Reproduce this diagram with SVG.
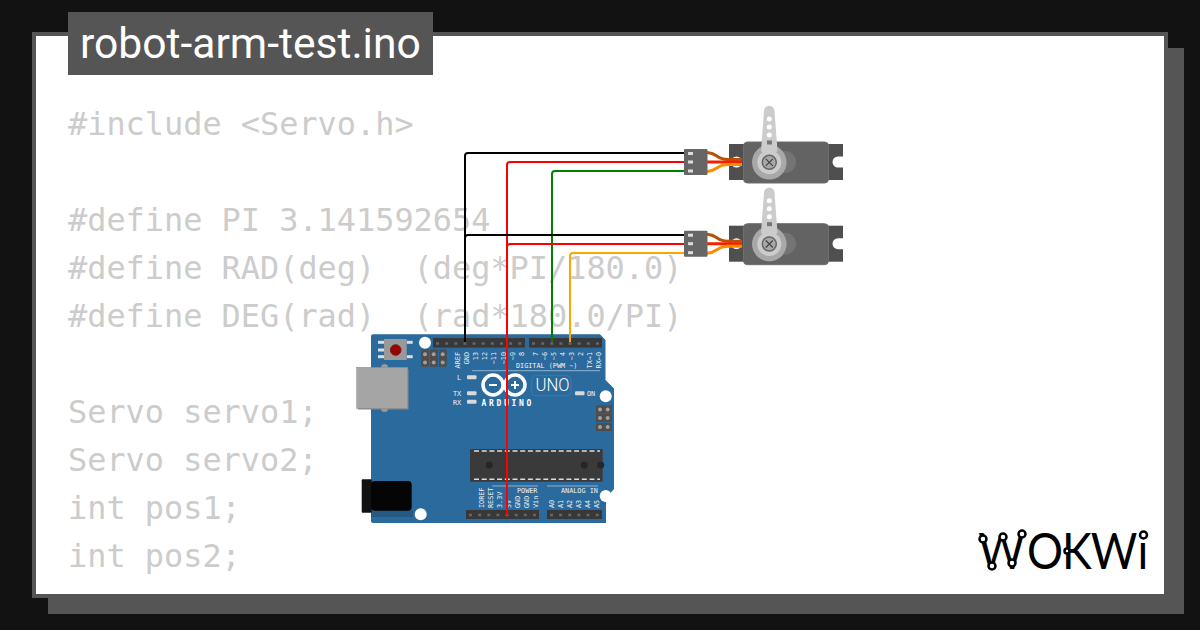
<svg xmlns="http://www.w3.org/2000/svg" width="1200" height="630" viewBox="0 0 1200 630">
<defs>
<style>
.code{font:31.900px "DejaVu Sans Mono","Liberation Mono",monospace;fill:#ccc;white-space:pre}
.lab{font-family:"DejaVu Sans Mono","Liberation Mono",monospace;font-size:6.8px;fill:#f2f2f2}
.wire{fill:none;stroke-width:2}
.lead{fill:none;stroke-width:3}
.hdr{fill:#383838}
.hp{fill:none;stroke:#666;stroke-width:2.500}
.icsp{fill:#4d4d4d}
.dot{fill:#a0a0a0}
.led{fill:#d9d9d9}
.hole{fill:#fff}
.pinw{fill:#ddd}
</style>
<g id="servo-shape">
<rect x="729" y="144" width="114" height="36" fill="#4f4f4f"/>
<circle cx="736.500" cy="162" r="5.500" class="hole"/>
<path d="M838 156.500a5.500 5.500 0 0 0 0 11h5v-11z" class="hole"/>
<rect x="743.500" y="142" width="85" height="41" rx="4" fill="#636363" stroke="#6e6e6e"/>
<path class="lead" d="M707 152.500C718 153 716 159.500 728 159.500H742" stroke="#b8520a"/>
<path class="lead" d="M707 162H742" stroke="#f32000"/>
<path class="lead" d="M707 171.500C718 171 716 164.500 728 164.500H742" stroke="#ff8a00"/>
<rect x="684" y="149" width="23.500" height="26" rx="1" fill="#666"/>
<rect x="688" y="152" width="5" height="3" class="pinw"/><rect x="688" y="160.500" width="5" height="3" class="pinw"/><rect x="688" y="169.500" width="5" height="3" class="pinw"/>
<circle cx="785" cy="162" r="11" fill="#747474"/>
<circle cx="769.300" cy="162.300" r="17.300" fill="#a8a8a8"/>
<path d="M764 111a5.200 5.200 0 0 1 10.500 0l3 40a12 12 0 0 1-16.500 0z" fill="#ccc"/>
<circle cx="769.300" cy="162.300" r="12" fill="#ccc"/>
<circle cx="769.300" cy="162.300" r="7" fill="#a8a8a8" stroke="#666" stroke-width="1.500"/>
<path d="M765.800 158.800l7 7m0-7l-7 7" stroke="#444" stroke-width="1.200"/>
<circle cx="769.300" cy="119" r="2.500" class="hole"/><circle cx="769.300" cy="127" r="2.500" class="hole"/><circle cx="769.300" cy="135" r="2.500" class="hole"/><rect x="767" y="140.500" width="5" height="4" fill="#777"/>
</g>
</defs>
<rect width="1200" height="630" fill="#121212"/>
<rect x="48" y="48" width="1136" height="566" fill="#555"/>
<rect x="34" y="34" width="1132" height="562" fill="#fff" stroke="#555" stroke-width="4"/>
<rect x="68" y="12" width="365" height="63" fill="#555"/>
<text x="80" y="58" style="font:42.600px Roboto,sans-serif;fill:#fff">robot-arm-test.ino</text>
<g class="code">
<text x="68" y="135">#include &lt;Servo.h&gt;</text>
<text x="68" y="231">#define PI 3.141592654</text>
<text x="68" y="279" xml:space="preserve">#define RAD(deg)  (deg*PI/180.0)</text>
<text x="68" y="327" xml:space="preserve">#define DEG(rad)  (rad*180.0/PI)</text>
<text x="68" y="423">Servo servo1;</text>
<text x="68" y="471">Servo servo2;</text>
<text x="68" y="519">int pos1;</text>
<text x="68" y="567">int pos2;</text>
</g>
<g id="uno">
<path d="M373 334.300H600L605.500 340V380L614 388.500V489L606 498V523H373a2 2 0 0 1-2-2V336.300a2 2 0 0 1 2-2z" fill="#2a6a9c"/>
<rect x="371" y="510" width="42" height="7" fill="#255a85"/>
<rect x="358" y="369" width="50.500" height="40.500" fill="#8a8a8a"/>
<circle cx="384.500" cy="367.500" r="3.500" fill="#999"/><circle cx="384.500" cy="408.500" r="3.500" fill="#999"/>
<rect x="356.700" y="367.300" width="51" height="41" fill="#a5a5a5" stroke="#888" stroke-width="0.500"/>
<rect x="361.700" y="479.300" width="10" height="33.400" rx="1" fill="#111"/><rect x="371" y="481" width="40.700" height="29.700" rx="4" fill="#050505"/>
<rect class="hdr" x="433" y="338" width="92" height="9.600"/><rect class="hdr" x="529" y="338" width="73" height="9.600"/>
<rect class="hdr" x="466" y="510" width="73" height="9"/><rect class="hdr" x="547" y="510" width="55" height="9"/>
<path class="hp" stroke-dasharray="3 6.140" d="M436 343.500H525M532 343.500H602M469 515H539M550 515H602"/>
<circle cx="425" cy="342.700" r="6" class="hole"/><circle cx="605.700" cy="396.300" r="6" class="hole"/><circle cx="605.700" cy="496" r="6" class="hole"/><circle cx="420.700" cy="514.300" r="6" class="hole"/>
<g class="pinw"><rect x="378" y="340.800" width="6" height="3"/><rect x="378" y="348.500" width="6" height="3"/><rect x="378" y="355.200" width="6" height="3"/><rect x="406.700" y="340.800" width="6" height="3"/><rect x="406.700" y="355.200" width="6" height="3"/></g>
<rect x="384" y="339" width="22.700" height="21" fill="#999"/><circle cx="395.700" cy="350" r="5.300" fill="#900" stroke="#7a1a1a"/>
<g class="icsp"><rect x="421" y="349.300" width="8" height="17.400"/><rect x="430" y="349.300" width="8" height="17.400"/><rect x="439" y="349.300" width="7.700" height="17.400"/><rect x="596" y="405.500" width="16" height="8"/><rect x="596" y="414" width="16" height="8"/><rect x="596" y="423" width="16" height="8"/></g>
<g class="dot"><circle cx="425" cy="354.300" r="2"/><circle cx="433.700" cy="354.300" r="2"/><circle cx="442.700" cy="354.300" r="2"/><circle cx="425" cy="362.500" r="2"/><circle cx="433.700" cy="362.500" r="2"/><circle cx="442.700" cy="362.500" r="2"/><circle cx="600" cy="409.500" r="2"/><circle cx="607.700" cy="409.500" r="2"/><circle cx="600" cy="418" r="2"/><circle cx="607.700" cy="418" r="2"/><circle cx="600" cy="427" r="2"/><circle cx="607.700" cy="427" r="2"/></g>
<rect x="470" y="449" width="132.700" height="32.700" rx="1" fill="#3a3a3a"/>
<circle cx="489.300" cy="465" r="3.500" fill="#262626"/><circle cx="584.300" cy="465" r="3.500" fill="#262626"/><circle cx="600.700" cy="465" r="3.500" fill="#262626"/>
<path d="M474 451H600M474 479.300H600" stroke="#ddd" stroke-width="1.500" stroke-dasharray="5 2.700"/>
<circle cx="493" cy="385" r="10" fill="none" stroke="#fff" stroke-width="3.500"/><circle cx="515" cy="385" r="10" fill="none" stroke="#fff" stroke-width="3.500"/>
<path d="M489 385h8M511 385h8M515 381v8" stroke="#fff" stroke-width="2"/>
<rect x="531.700" y="375.700" width="39.300" height="20" rx="4" fill="none" stroke="#3a7aae"/>
<text x="535.500" y="391" textLength="34" lengthAdjust="spacingAndGlyphs" style="font:300 18px Roboto,sans-serif;fill:#fff">UNO</text>
<text x="481.500" y="405.700" style="font:bold 8px 'DejaVu Sans Mono',monospace;fill:#fff;letter-spacing:2.700px">ARDUINO</text>
<path d="M472 370.700H600M492 486H538M547 486H598" stroke="#a9c6dc" stroke-width="0.800"/>
<text class="lab" x="516" y="368">DIGITAL (PWM ~)</text>
<text class="lab" x="517" y="493">POWER</text>
<text class="lab" x="561" y="493">ANALOG IN</text>
<text class="lab" x="457" y="379.500">L</text><text class="lab" x="453" y="396">TX</text><text class="lab" x="453" y="404.500">RX</text><text class="lab" x="587" y="396">ON</text>
<g class="led"><rect x="467" y="375.300" width="9.500" height="4" rx="1"/><rect x="467" y="391.300" width="9.500" height="4" rx="1"/><rect x="467" y="399.700" width="9.500" height="4" rx="1"/><rect x="575" y="391.300" width="9.500" height="4" rx="1"/></g>
<g class="lab" text-anchor="end">
<text transform="translate(460,352) rotate(-90)">AREF</text><text transform="translate(469,352) rotate(-90)">GND</text><text transform="translate(478,352) rotate(-90)">13</text><text transform="translate(487,352) rotate(-90)">12</text><text transform="translate(496.300,352) rotate(-90)">~11</text><text transform="translate(505.500,352) rotate(-90)">~10</text><text transform="translate(514.700,352) rotate(-90)">~9</text><text transform="translate(523.500,352) rotate(-90)">8</text>
<text transform="translate(538,352) rotate(-90)">7</text><text transform="translate(547,352) rotate(-90)">~6</text><text transform="translate(556,352) rotate(-90)">~5</text><text transform="translate(564.500,352) rotate(-90)">4</text><text transform="translate(573.500,352) rotate(-90)">~3</text><text transform="translate(582.500,352) rotate(-90)">2</text><text transform="translate(591.500,352) rotate(-90)">TX→1</text><text transform="translate(600.500,352) rotate(-90)">RX←0</text>
</g>
<g class="lab">
<text transform="translate(484,508) rotate(-90)">IOREF</text><text transform="translate(493,508) rotate(-90)">RESET</text><text transform="translate(501.500,508) rotate(-90)">3.3V</text><text transform="translate(510.500,508) rotate(-90)">5V</text><text transform="translate(520,508) rotate(-90)">GND</text><text transform="translate(529,508) rotate(-90)">GND</text><text transform="translate(537.500,508) rotate(-90)">Vin</text>
<text transform="translate(553.700,508) rotate(-90)">A0</text><text transform="translate(562.500,508) rotate(-90)">A1</text><text transform="translate(571.500,508) rotate(-90)">A2</text><text transform="translate(580.500,508) rotate(-90)">A3</text><text transform="translate(590,508) rotate(-90)">A4</text><text transform="translate(598.500,508) rotate(-90)">A5</text>
</g>
</g>
<g id="servo1"><use href="#servo-shape"/></g>
<g id="servo2"><use href="#servo-shape" y="81.700"/></g>
<g id="connectors">
<path class="wire" stroke="#000" d="M684 153H468a3 3 0 0 0-3 3V342"/>
<path class="wire" stroke="#f00" d="M684 162H510a3 3 0 0 0-3 3V515"/>
<path class="wire" stroke="#008000" d="M684 171H555a3 3 0 0 0-3 3V342"/>
<path class="wire" stroke="#000" d="M684 235H468a3 3 0 0 0-3 3V342"/>
<path class="wire" stroke="#f00" d="M684 244H510a3 3 0 0 0-3 3V515"/>
<path class="wire" stroke="#ffa500" d="M684 253H573a3 3 0 0 0-3 3V342"/>
</g>
<g id="wokwi-logo">
<text y="569" transform="scale(0.9,1)" style="font:50px Lato,sans-serif;fill:#000"><tspan x="1087">W</tspan><tspan x="1141">O</tspan><tspan x="1180">K</tspan><tspan x="1212">W</tspan><tspan x="1264">i</tspan></text>
<g fill="#fff" stroke="#000" stroke-width="2.500"><circle cx="983" cy="539" r="3.500"/><circle cx="1003" cy="537" r="3.500"/><circle cx="1022" cy="534" r="3.500"/><circle cx="992" cy="566" r="3.500"/><circle cx="1012" cy="563" r="3.500"/><circle cx="1067" cy="551" r="2.500"/><circle cx="1143.500" cy="535" r="3.500"/></g>
</g>
</svg>
